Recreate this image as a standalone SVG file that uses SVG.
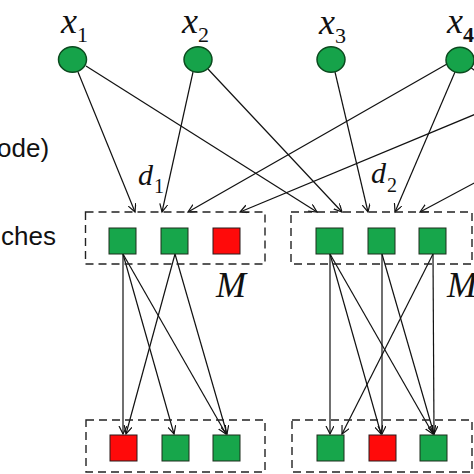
<svg xmlns="http://www.w3.org/2000/svg" width="474" height="474" viewBox="0 0 474 474">
<style>
.node{fill:#16a34a;stroke:#0b4a1e;stroke-width:1.5}
.g{fill:#17a64b;stroke:#1c2e1c;stroke-width:1}
.r{fill:#ff0a0a;stroke:#2a1a1a;stroke-width:1}
.box{fill:none;stroke:#222;stroke-width:1.4;stroke-dasharray:8,5}
.e{stroke:#111;stroke-width:1.2;fill:none;marker-end:url(#ah)}
.var{font-family:"Liberation Serif",serif;font-style:italic;fill:#111}
.sub{font-family:"Liberation Serif",serif;font-style:normal;fill:#111}
.lbl{font-family:"Liberation Sans",sans-serif;font-size:26px;fill:#111}
</style>
<defs>
<marker id="ah" markerUnits="userSpaceOnUse" markerWidth="12" markerHeight="10" refX="8" refY="4" orient="auto">
<path d="M0,0 L8,4 L0,8" fill="none" stroke="#111" stroke-width="1.2"/>
</marker>
</defs>
<rect width="474" height="474" fill="#fff"/>
<text class="lbl" x="-3" y="157">ode)</text>
<text class="lbl" x="1" y="245">ches</text>
<g id="connectors">
<line class="e" x1="78" y1="72" x2="135" y2="212"/>
<line class="e" x1="86" y1="66" x2="317" y2="212"/>
<line class="e" x1="193" y1="72" x2="162" y2="212"/>
<line class="e" x1="208" y1="69" x2="342" y2="212"/>
<line class="e" x1="335" y1="72" x2="368" y2="212"/>
<line class="e" x1="447" y1="64" x2="188" y2="212"/>
<line class="e" x1="455" y1="72" x2="395" y2="212"/>
<line class="e" x1="560" y1="79" x2="240" y2="212"/>
<line class="e" x1="560" y1="137" x2="420" y2="212"/>
<line x1="470" y1="67" x2="520" y2="104" stroke="#111" stroke-width="1.2"/>
<line class="e" x1="123" y1="254" x2="123" y2="434"/>
<line class="e" x1="123" y1="254" x2="174" y2="434"/>
<line class="e" x1="123" y1="254" x2="226" y2="434"/>
<line class="e" x1="175" y1="254" x2="126" y2="434"/>
<line class="e" x1="175" y1="254" x2="227" y2="434"/>
<line class="e" x1="330" y1="254" x2="330" y2="434"/>
<line class="e" x1="330" y1="254" x2="381" y2="434"/>
<line class="e" x1="330" y1="254" x2="433" y2="434"/>
<line class="e" x1="382" y1="254" x2="382" y2="434"/>
<line class="e" x1="382" y1="254" x2="434" y2="434"/>
<line class="e" x1="433" y1="254" x2="342" y2="434"/>
<line class="e" x1="433" y1="254" x2="434" y2="434"/>
</g>
<g id="x1"><ellipse class="node" cx="72.5" cy="59.5" rx="14" ry="12.8"/><text class="var" x="61" y="33" font-size="36">x</text><text class="sub" x="77" y="42" font-size="22">1</text></g>
<g id="x2"><ellipse class="node" cx="198" cy="59.5" rx="14" ry="12.8"/><text class="var" x="182" y="33" font-size="36">x</text><text class="sub" x="198" y="42" font-size="22">2</text></g>
<g id="x3"><ellipse class="node" cx="331" cy="59.5" rx="14" ry="12.8"/><text class="var" x="319" y="34" font-size="36">x</text><text class="sub" x="335" y="43" font-size="22">3</text></g>
<g id="x4"><ellipse class="node" cx="460" cy="60" rx="14" ry="12.8"/><text class="var" x="447" y="33" font-size="36">x</text><text class="sub" x="463" y="42" font-size="22" font-weight="bold">4</text></g>
<g id="d1"><text class="var" x="138" y="185" font-size="30">d</text><text class="sub" x="154" y="193" font-size="20">1</text></g>
<g id="d2"><text class="var" x="371" y="183" font-size="30">d</text><text class="sub" x="387" y="192" font-size="20">2</text></g>
<g id="upper-left">
<rect class="box" x="85.5" y="212" width="179.5" height="52"/>
<rect class="g" x="109" y="228" width="27" height="26"/>
<rect class="g" x="161" y="228" width="27" height="26"/>
<rect class="r" x="213" y="228" width="27" height="26"/>
</g>
<g id="upper-right">
<rect class="box" x="291" y="212" width="181" height="52"/>
<rect class="g" x="316" y="228" width="27" height="26"/>
<rect class="g" x="368" y="228" width="27" height="26"/>
<rect class="g" x="419" y="228" width="27" height="26"/>
</g>
<g id="M1"><text class="var" x="216" y="297" font-size="36">M</text></g>
<g id="M2"><text class="var" x="447" y="297" font-size="36">M</text></g>
<g id="lower-left">
<rect class="box" x="86" y="420" width="179" height="52"/>
<rect class="r" x="110" y="435" width="27" height="26"/>
<rect class="g" x="162" y="435" width="27" height="26"/>
<rect class="g" x="213" y="435" width="27" height="26"/>
</g>
<g id="lower-right">
<rect class="box" x="292" y="420" width="180" height="52"/>
<rect class="g" x="317" y="435" width="27" height="26"/>
<rect class="r" x="369" y="435" width="27" height="26"/>
<rect class="g" x="420" y="435" width="27" height="26"/>
</g>
</svg>
